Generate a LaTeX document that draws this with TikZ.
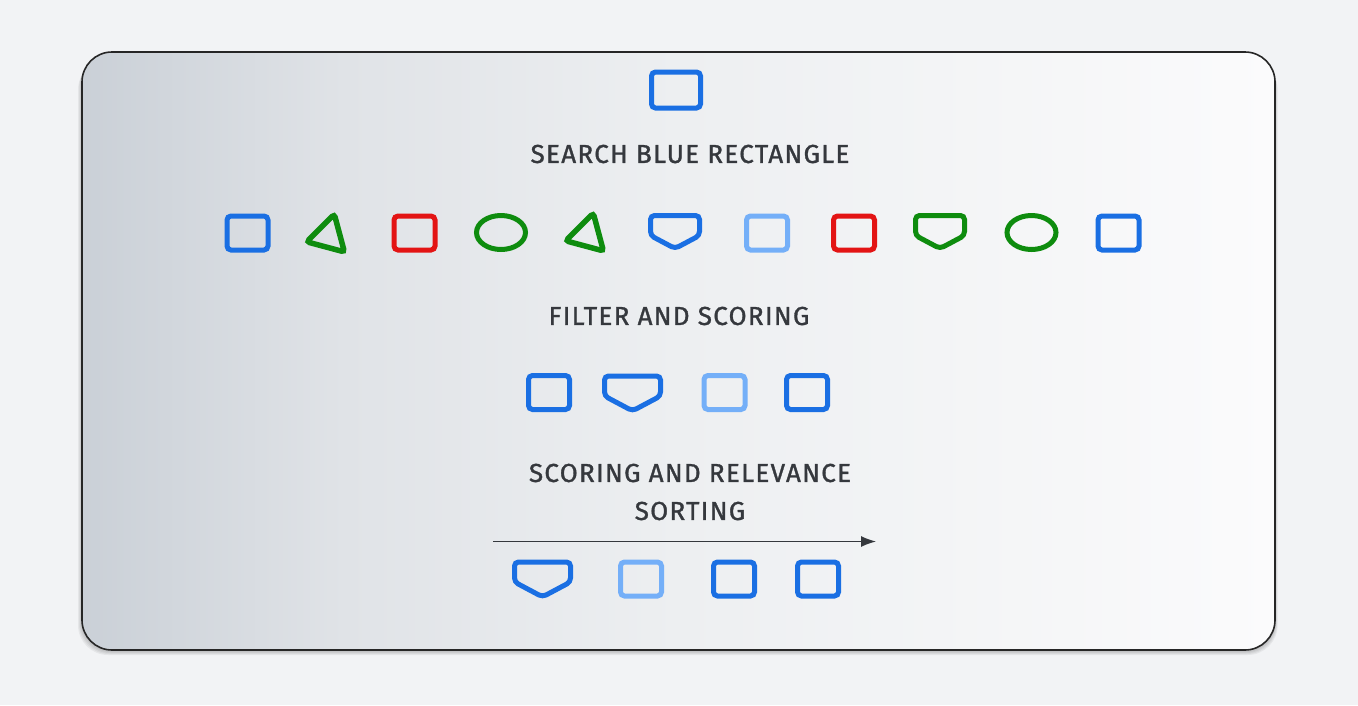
\documentclass[tikz,border=0pt]{standalone}
\usepackage{fontspec}
\setsansfont{Fira Sans}[LetterSpace=5, FakeBold=1.2]
\usepackage{xcolor}
\usetikzlibrary{shapes.geometric,shapes.symbols,arrows.meta}

\definecolor{pagebg}{HTML}{F2F3F5}
\definecolor{cardleft}{HTML}{CAD0D7}
\definecolor{cardnear}{HTML}{E0E3E7}
\definecolor{cardmid}{HTML}{EDEFF1}
\definecolor{cardright}{HTML}{FBFBFC}
\definecolor{ink}{HTML}{35383D}
\definecolor{sblue}{HTML}{1A6FE3}
\definecolor{slight}{HTML}{74AFF8}
\definecolor{sred}{HTML}{E31414}
\definecolor{sgreen}{HTML}{0E8C0E}
\pgfdeclarehorizontalshading{cardshade}{100bp}{color(0bp)=(cardleft); color(25bp)=(cardleft); color(36bp)=(cardnear); color(50bp)=(cardmid); color(75bp)=(cardright); color(100bp)=(cardright)}

\begin{document}
\begin{tikzpicture}[x=1pt, y=-1pt,
    box/.style={rectangle, draw, line width=5pt, rounded corners=4pt, minimum width=41pt, minimum height=34pt, inner sep=0pt},
    oval/.style={ellipse, draw, line width=5pt, minimum width=49pt, minimum height=34pt, inner sep=0pt},
    tri/.style={regular polygon, regular polygon sides=3, draw, line width=5.5pt, rounded corners=3pt, minimum size=45pt, inner sep=0pt, rotate=-15},
    shield/.style={signal, signal to=south, signal pointer angle=124, draw, line width=5pt, rounded corners=4pt, minimum width=49pt, minimum height=20pt, inner sep=0pt},
    caption/.style={font=\sffamily\fontsize{26}{38}\selectfont, text=ink, align=center}]
          \fill[pagebg] (0,0) rectangle (1358,705);
          \foreach \s in {2,4,6,8}
            \fill[black, opacity=0.05, rounded corners=30pt] (82-\s/2,52+\s) rectangle (1275+\s/3,650+\s/2+1);
          \shade[shading=cardshade, rounded corners=30pt] (82,52) rectangle (1275,650);
          \draw[line width=1.6pt, black!85, rounded corners=30pt] (82,52) rectangle (1275,650);
          \node[box, sblue, minimum width=49pt, minimum height=36pt] (Q) at (676,90) {};
          \node[caption] (L1) at (690,154) {SEARCH BLUE RECTANGLE};
          \node[box, sblue] (A1) at (247.5,233) {};
          \node[tri, sgreen] (A2) at (328.5,236) {};
          \node[box, sred] (A3) at (414.5,233) {};
          \node[oval, sgreen] (A4) at (501,232.5) {};
          \node[tri, sgreen] (A5) at (587.5,235) {};
          \node[shield, sblue] (A6) at (675,225.5) {};
          \node[box, slight] (A7) at (767,233) {};
          \node[box, sred] (A8) at (854,233) {};
          \node[shield, sgreen] (A9) at (940,225.5) {};
          \node[oval, sgreen] (A10) at (1031.5,232.5) {};
          \node[box, sblue] (A11) at (1118.5,233) {};
          \node[caption] (L2) at (679,316) {FILTER AND SCORING};
          \node[box, sblue] (B1) at (549,392.5) {};
          \node[shield, sblue, minimum width=56pt] (B2) at (632.5,386) {};
          \node[box, slight] (B3) at (724.5,392.5) {};
          \node[box, sblue] (B4) at (807,392.5) {};
          \node[caption] (L3) at (690,492) {SCORING AND RELEVANCE\\SORTING};
          \coordinate (S) at (493,541.5);
          \coordinate (E) at (876,541.5);
          \draw[ink, line width=1.3pt, -{Latex[length=15pt,width=11pt]}] (S) -- (E);
          \node[shield, sblue, minimum width=56pt] (C1) at (542.5,572) {};
          \node[box, slight] (C2) at (641,579) {};
          \node[box, sblue] (C3) at (734,579) {};
          \node[box, sblue] (C4) at (818,579) {};
        \end{tikzpicture}
\end{document}
